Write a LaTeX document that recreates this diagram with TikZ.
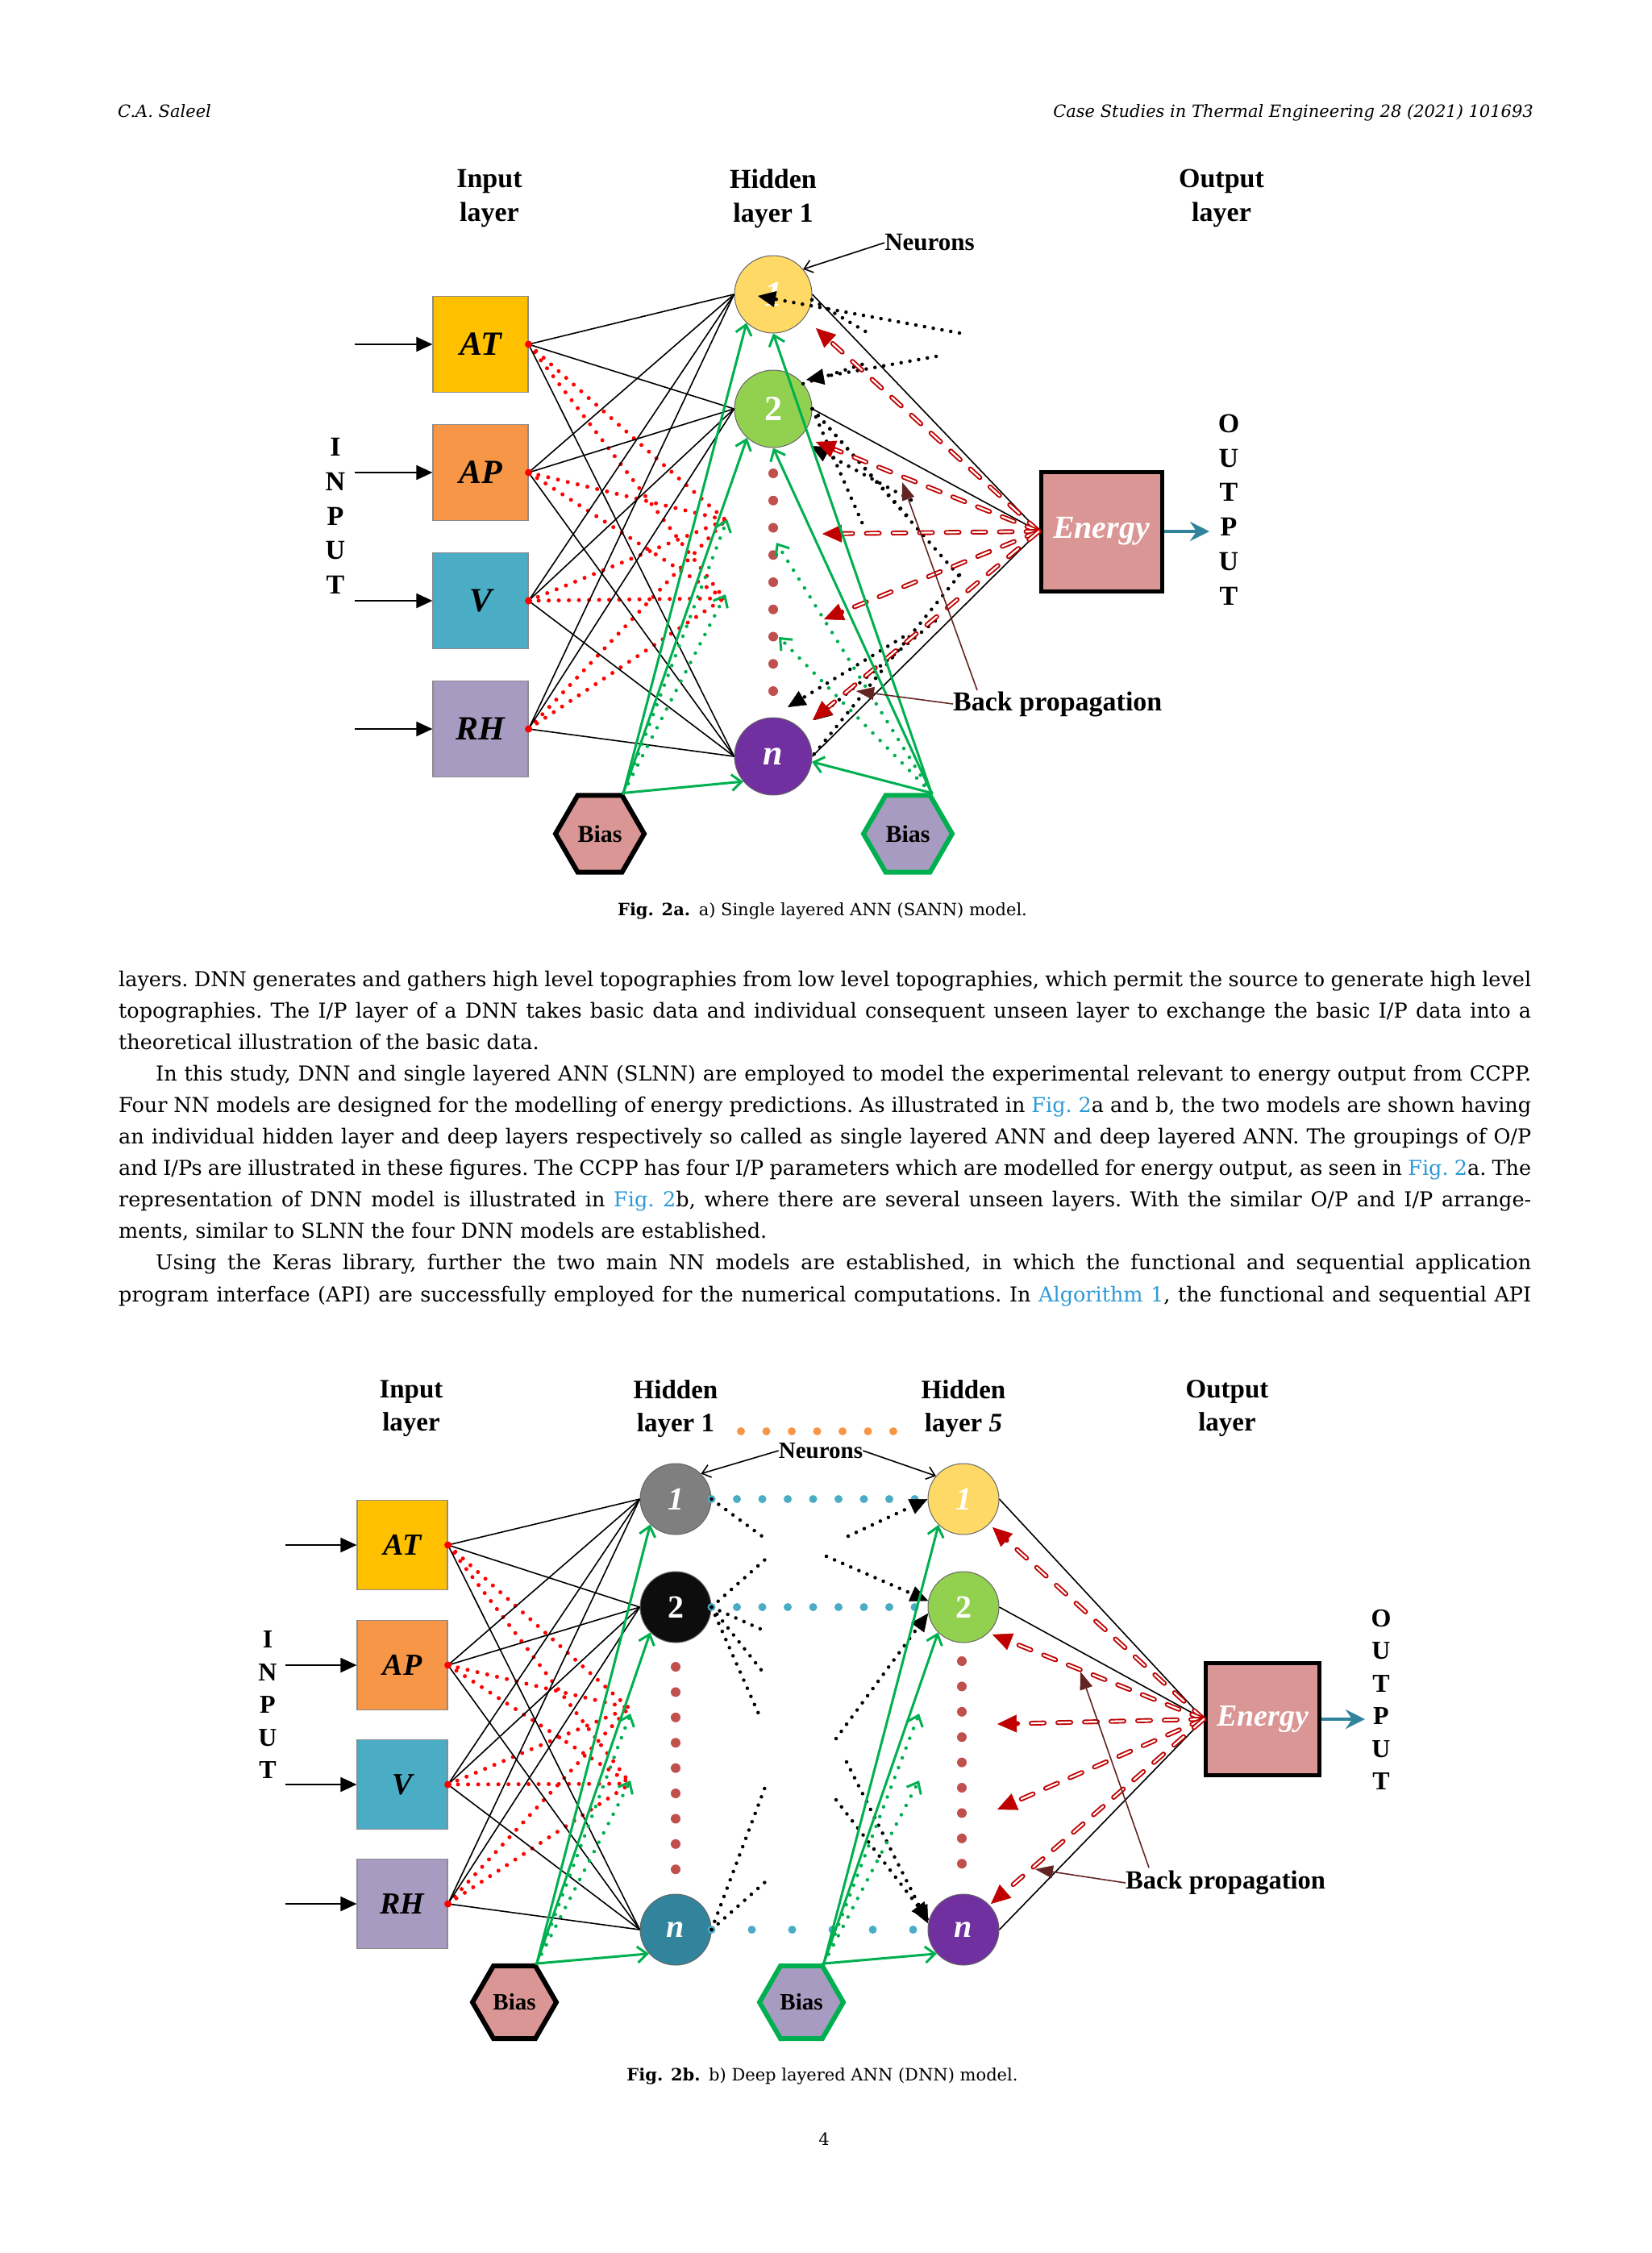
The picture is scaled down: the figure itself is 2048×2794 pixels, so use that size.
\documentclass[tikz,border=0pt]{standalone}
\usepackage{fontspec}
\setmainfont{DejaVu Serif}
\newfontfamily\tnr{Liberation Serif}
\usetikzlibrary{arrows.meta,shapes.geometric}
\definecolor{cAT}{HTML}{FFC000}
\definecolor{cAP}{HTML}{F79646}
\definecolor{cV}{HTML}{4BACC6}
\definecolor{cRH}{HTML}{A89BC1}
\definecolor{cEn}{HTML}{D99694}
\definecolor{cGreen}{HTML}{00B050}
\definecolor{cRed}{HTML}{C00000}
\definecolor{cRedDot}{HTML}{FF0000}
\definecolor{cBrown}{HTML}{C0504D}
\definecolor{cTeal}{HTML}{31849B}
\definecolor{cYel}{HTML}{FFD966}
\definecolor{cGrn}{HTML}{92D050}
\definecolor{cPur}{HTML}{7030A0}
\definecolor{cGray}{HTML}{7F7F7F}
\definecolor{cBlk}{HTML}{0D0D0D}
\definecolor{cBP}{HTML}{632523}
\definecolor{cLink}{HTML}{2E9AD6}
\definecolor{cOrange}{HTML}{F79646}
\definecolor{cBlue}{HTML}{4BACC6}
\newcommand{\lk}[1]{\textcolor{cLink}{#1}}
\newcommand{\bodyf}{\fontsize{25.5}{39}\selectfont\frenchspacing}
\begin{document}
\begin{tikzpicture}[x=1pt,y=-1pt,
  txt/.style={inner sep=0pt},
  bt/.style={anchor=base west, inner sep=0pt, font=\bodyf},
  title/.style={align=center, inner sep=0pt, font=\tnr\bfseries\fontsize{34}{42}\selectfont},
  titleb/.style={align=center, inner sep=0pt, font=\tnr\bfseries\fontsize{33}{41}\selectfont},
  vtxt/.style={align=center, inner sep=0pt, font=\tnr\bfseries\fontsize{34}{42.7}\selectfont},
  vtxtb/.style={align=center, inner sep=0pt, font=\tnr\bfseries\fontsize{32}{40.5}\selectfont},
  lbl/.style={inner sep=0pt, font=\tnr\bfseries\fontsize{31}{31}\selectfont},
  lblb/.style={inner sep=0pt, font=\tnr\bfseries\fontsize{29}{29}\selectfont},
  inbox/.style={rectangle, draw=black!45, line width=1.2pt, minimum width=118pt, minimum height=119pt, inner sep=0pt, font=\tnr\bfseries\itshape\fontsize{42}{42}\selectfont},
  inboxb/.style={rectangle, draw=black!45, line width=1.2pt, minimum width=112pt, minimum height=111pt, inner sep=0pt, font=\tnr\bfseries\itshape\fontsize{38}{38}\selectfont},
  neuron/.style={circle, draw=black!60, line width=1pt, minimum size=96pt, inner sep=0pt, text=white, font=\tnr\bfseries\fontsize{44}{44}\selectfont},
  neuronb/.style={circle, draw=black!60, line width=1pt, minimum size=88pt, inner sep=0pt, text=white, font=\tnr\bfseries\fontsize{40}{40}\selectfont},
  energy/.style={rectangle, draw=black, line width=5pt, fill=cEn, text=white, inner sep=0pt, font=\tnr\bfseries\itshape\fontsize{40}{40}\selectfont},
  hexa/.style={regular polygon, regular polygon sides=6, minimum size=110pt, inner sep=0pt, line width=6pt, font=\tnr\bfseries\fontsize{30}{30}\selectfont},
  hexab/.style={regular polygon, regular polygon sides=6, minimum size=104pt, inner sep=0pt, line width=6pt, font=\tnr\bfseries\fontsize{29}{29}\selectfont},
  inarr/.style={line width=2pt, -{Triangle[length=20pt,width=18pt]}},
  inln/.style={line width=1.6pt, black},
  reddot/.style={draw=cRedDot, line width=5pt, dash pattern=on 0pt off 12.5pt, line cap=round},
  blkdot/.style={draw=black, line width=4.5pt, dash pattern=on 0pt off 11pt, line cap=round},
  blkdotarr/.style={blkdot, -{Triangle[length=22pt,width=20pt,line width=0.5pt]}},
  grn/.style={draw=cGreen, line width=3pt, -{Straight Barb[length=12pt,width=20pt]}},
  grndot/.style={draw=cGreen, line width=4.5pt, dash pattern=on 0pt off 13pt, line cap=round, -{Straight Barb[length=12pt,width=20pt,line width=3pt]}},
  reddash/.style={draw=cRed, line width=6pt, line cap=round, dash pattern=on 16pt off 17pt, -{Triangle[length=24pt,width=22pt,line width=0.5pt]}, postaction={draw=white, line width=2.2pt, -, shorten >=26pt}},
  outarr/.style={draw=cTeal, line width=4pt, -{Stealth[length=24pt,width=24pt,inset=8pt]}},
  bparr/.style={draw=cBP, line width=1.6pt, -{Triangle[length=22pt,width=16pt,line width=0.5pt]}},
  thinarr/.style={line width=1.6pt, -{Straight Barb[length=10pt,width=16pt]}},
  browndots/.style={draw=cBrown, line width=12pt, line cap=round},
  bluedots/.style={draw=cBlue, line width=10pt, line cap=round},
  orangedots/.style={draw=cOrange, line width=10pt, line cap=round, dash pattern=on 0pt off 31.5pt}
]
\useasboundingbox (0,0) rectangle (2048,2794);
\fill[white] (0,0) rectangle (2048,2794);

% ---------------- header ----------------
\node[anchor=base west, txt, font=\fontsize{21}{21}\selectfont\itshape] (hdrL) at (146,146) {C.A. Saleel};
\node[anchor=base east, txt, font=\fontsize{21}{21}\selectfont\itshape] (hdrR) at (1902,146) {Case Studies in Thermal Engineering 28 (2021) 101693};

% ================= FIG 2a =================
\node[title] (tIn) at (607,246) {Input\\layer};
\node[title] (tHid) at (959,246) {Hidden\\layer 1};
\node[title] (tOut) at (1515,246) {Output\\layer};

\node[inbox, fill=cAT] (AT) at (596,427) {AT};
\node[inbox, fill=cAP] (AP) at (596,586) {AP};
\node[inbox, fill=cV] (V) at (596,745) {V};
\node[inbox, fill=cRH] (RH) at (596,904) {RH};

\coordinate (aAT) at (440,427);
\coordinate (aAP) at (440,586);
\coordinate (aV) at (440,745);
\coordinate (aRH) at (440,904);
\draw[inarr] (aAT) -- (AT.west);
\draw[inarr] (aAP) -- (AP.west);
\draw[inarr] (aV) -- (V.west);
\draw[inarr] (aRH) -- (RH.west);

\node[vtxt] (inpA) at (416,640) {I\\N\\P\\U\\T};

\node[neuron, fill=cYel] (N1) at (959,365) {\itshape 1};
\node[neuron, fill=cGrn] (N2) at (959,507) {2};
\node[neuron, fill=cPur] (Nn) at (959,938) {\itshape n};

\coordinate (bdA1) at (959,587);
\coordinate (bdA2) at (959,858);
\draw[browndots, dash pattern=on 0pt off 33.75pt] (bdA1) -- (bdA2);

\node[energy, minimum width=150pt, minimum height=148pt] (E1) at (1366,659) {Energy};
\coordinate (o1) at (1500,659);
\draw[outarr] (E1.east) -- (o1);
\node[vtxt] (outA) at (1524,632) {O\\U\\T\\P\\U\\T};

\node[hexa, fill=cEn, draw=black] (bL) at (744,1034) {Bias};
\node[hexa, fill=cRH, draw=cGreen] (bR) at (1126,1034) {Bias};

% red dotted input connections
\coordinate (rT1) at (900,645);
\coordinate (rT2) at (898,742);
\foreach \s in {AT,AP,V,RH}{
  \draw[reddot] (\s.east) -- (rT1);
  \draw[reddot] (\s.east) -- (rT2);
}
% black input connections
\foreach \s in {AT,AP,V,RH}{
  \foreach \t in {N1,N2,Nn}{\draw[inln] (\s.east) -- (\t.west);}
}
\foreach \s in {AT,AP,V,RH}{\fill[cRedDot] (\s.east) circle (4.5pt);}

% hidden -> output
\draw[inln] (N1.east) -- (E1.west);
\draw[inln] (N2.east) -- (E1.west);
\draw[inln] (Nn.east) -- (E1.west);

% black dotted
\coordinate (k1s) at (1190,413); \coordinate (k1e) at (940,367);
\coordinate (k2e) at (1075,412);
\coordinate (k3s) at (1161,442); \coordinate (k3e) at (1000,471);
\coordinate (k4e) at (1075,450);
\coordinate (k5e) at (1070,650);
\coordinate (k6e) at (1130,645);
\coordinate (k7e) at (1190,715);
\coordinate (k8s) at (1130,620); \coordinate (k8e) at (1006,553);
\coordinate (k9s) at (1120,790); \coordinate (k9e) at (977,877);
\coordinate (k10s) at (1160,770); \coordinate (k10e) at (1010,893);
\coordinate (k11s) at (1190,713);
\draw[blkdotarr] (k1s) -- (k1e);
\draw[blkdot] (N1.-8) -- (k2e);
\draw[blkdotarr] (k3s) -- (k3e);
\draw[blkdot] (N2.40) -- (k4e);
\draw[blkdot] (N2.east) -- (k5e);
\draw[blkdot] (N2.east) -- (k6e);
\draw[blkdot] (N2.east) -- (k7e);
\draw[blkdotarr] (k8s) -- (k8e);
\draw[blkdotarr] (k9s) -- (k9e);
\draw[blkdotarr] (k10s) -- (k10e);
\draw[blkdot] (k11s) -- (Nn.east);

% red dashed back propagation
\coordinate (rd1) at (1012,407);
\coordinate (rd2) at (1012,548);
\coordinate (rd3) at (1020,662);
\coordinate (rd4) at (1022,768);
\coordinate (rd5) at (1008,893);
\foreach \c in {rd1,rd2,rd3,rd4,rd5}{\draw[reddash] (E1.west) -- (\c);}

% green bias connections
\coordinate (gL1) at (902,644);
\coordinate (gL2) at (900,737);
\coordinate (gR1) at (963,673);
\coordinate (gR2) at (966,790);
\draw[grndot] (bL.60) -- (gL1);
\draw[grndot] (bL.60) -- (gL2);
\draw[grndot] (bR.60) -- (gR1);
\draw[grndot] (bR.60) -- (gR2);
\draw[grn] (bL.60) -- (N1.227);
\draw[grn] (bL.60) -- (N2.228);
\draw[grn] (bL.60) -- (Nn.220);
\draw[grn] (bR.60) -- (N1.270);
\draw[grn] (bR.60) -- (N2.270);
\draw[grn] (bR.60) -- (Nn.352);

% neurons label
\node[lbl] (nlA) at (1153,301) {Neurons};
\draw[thinarr] (nlA.west) -- (N1.40);

% back propagation label
\node[lbl, anchor=west, font=\tnr\bfseries\fontsize{34}{34}\selectfont] (BP1) at (1182,873) {Back propagation};
\coordinate (bp1a) at (1212,856); \coordinate (bp1t) at (1119,598);
\coordinate (bp2t) at (1062,857);
\draw[bparr] (bp1a) -- (bp1t);
\draw[bparr] (BP1.west) -- (bp2t);

\node[anchor=base, txt, font=\fontsize{21}{21}\selectfont] (capA) at (1020,1135) {\textbf{Fig. 2a.}\enspace a) Single layered ANN (SANN) model.};

% ---------------- body text ----------------
\node[bt] (p1) at (147,1223) {\makebox[1752pt][s]{layers. DNN generates and gathers high level topographies from low level topographies, which permit the source to generate high level}};
\node[bt] (p2) at (147,1262.1) {\makebox[1752pt][s]{topographies. The I/P layer of a DNN takes basic data and individual consequent unseen layer to exchange the basic I/P data into a}};
\node[bt] (p3) at (147,1301.2) {theoretical illustration of the basic data.};
\node[bt] (p4) at (193,1340.3) {\makebox[1706pt][s]{In this study, DNN and single layered ANN (SLNN) are employed to model the experimental relevant to energy output from CCPP.}};
\node[bt] (p5) at (147,1379.4) {\makebox[1752pt][s]{Four NN models are designed for the modelling of energy predictions. As illustrated in \lk{Fig. 2}a and b, the two models are shown having}};
\node[bt] (p6) at (147,1418.5) {\makebox[1752pt][s]{an individual hidden layer and deep layers respectively so called as single layered ANN and deep layered ANN. The groupings of O/P}};
\node[bt] (p7) at (147,1457.6) {\makebox[1752pt][s]{and I/Ps are illustrated in these figures. The CCPP has four I/P parameters which are modelled for energy output, as seen in \lk{Fig. 2}a. The}};
\node[bt] (p8) at (147,1496.7) {\makebox[1752pt][s]{representation of DNN model is illustrated in \lk{Fig. 2}b, where there are several unseen layers. With the similar O/P and I/P arrange-}};
\node[bt] (p9) at (147,1535.8) {ments, similar to SLNN the four DNN models are established.};
\node[bt] (p10) at (193,1574.9) {\makebox[1706pt][s]{Using the Keras library, further the two main NN models are established, in which the functional and sequential application}};
\node[bt] (p11) at (147,1614) {\makebox[1752pt][s]{program interface (API) are successfully employed for the numerical computations. In \lk{Algorithm 1}, the functional and sequential API}};

% ================= FIG 2b =================
\node[titleb] (tIn2) at (510,1747) {Input\\layer};
\node[titleb] (tH1) at (838,1747) {Hidden\\layer 1};
\node[titleb] (tH5) at (1195,1747) {Hidden\\layer \textit{5}};
\node[titleb] (tOut2) at (1522,1747) {Output\\layer};

\coordinate (or1) at (919,1775);
\coordinate (or2) at (1109,1775);
\draw[orangedots] (or1) -- (or2);

\node[inboxb, fill=cAT] (AT2) at (499,1916) {AT};
\node[inboxb, fill=cAP] (AP2) at (499,2065) {AP};
\node[inboxb, fill=cV] (V2) at (499,2213) {V};
\node[inboxb, fill=cRH] (RH2) at (499,2361) {RH};
\coordinate (bAT) at (354,1916);
\coordinate (bAP) at (354,2065);
\coordinate (bV) at (354,2213);
\coordinate (bRH) at (354,2361);
\draw[inarr] (bAT) -- (AT2.west);
\draw[inarr] (bAP) -- (AP2.west);
\draw[inarr] (bV) -- (V2.west);
\draw[inarr] (bRH) -- (RH2.west);
\node[vtxtb] (inpB) at (332,2114) {I\\N\\P\\U\\T};

\node[neuronb, fill=cGray] (A1) at (838,1859) {\itshape 1};
\node[neuronb, fill=cBlk] (A2) at (838,1993) {2};
\node[neuronb, fill=cTeal] (An) at (838,2393) {\itshape n};
\node[neuronb, fill=cYel] (B1) at (1195,1859) {\itshape 1};
\node[neuronb, fill=cGrn] (B2) at (1195,1993) {2};
\node[neuronb, fill=cPur] (Bn) at (1195,2393) {\itshape n};

\coordinate (bdB1) at (838,2067);
\coordinate (bdB2) at (838,2319);
\coordinate (bdC1) at (1193,2060);
\coordinate (bdC2) at (1193,2312);
\draw[browndots, dash pattern=on 0pt off 31.4pt] (bdB1) -- (bdB2);
\draw[browndots, dash pattern=on 0pt off 31.4pt] (bdC1) -- (bdC2);

\draw[bluedots, dash pattern=on 0pt off 31.5pt] (A1.east) -- (B1.west);
\draw[bluedots, dash pattern=on 0pt off 31.5pt] (A2.east) -- (B2.west);
\draw[bluedots, dash pattern=on 0pt off 50pt] (An.east) -- (Bn.west);

\node[energy, minimum width=141pt, minimum height=139pt, font=\tnr\bfseries\itshape\fontsize{38}{38}\selectfont] (E2) at (1566,2132) {Energy};
\coordinate (o2) at (1693,2132);
\draw[outarr] (E2.east) -- (o2);
\node[vtxtb] (outB) at (1713,2108) {O\\U\\T\\P\\U\\T};

\node[hexab, fill=cEn, draw=black] (bL2) at (638,2483) {Bias};
\node[hexab, fill=cRH, draw=cGreen] (bR2) at (994,2483) {Bias};

\coordinate (rU1) at (780,2118);
\coordinate (rU2) at (782,2212);
\foreach \s in {AT2,AP2,V2,RH2}{
  \draw[reddot] (\s.east) -- (rU1);
  \draw[reddot] (\s.east) -- (rU2);
}
\foreach \s in {AT2,AP2,V2,RH2}{
  \foreach \t in {A1,A2,An}{\draw[inln] (\s.east) -- (\t.west);}
}
\foreach \s in {AT2,AP2,V2,RH2}{\fill[cRedDot] (\s.east) circle (4.5pt);}

\draw[inln] (B1.east) -- (E2.west);
\draw[inln] (B2.east) -- (E2.west);
\draw[inln] (Bn.east) -- (E2.west);

% black dotted between layers
\coordinate (m1) at (945,1905);
\coordinate (m2) at (949,1934);
\coordinate (m3) at (943,2020);
\coordinate (m4) at (945,2072);
\coordinate (m5) at (943,2130);
\coordinate (m6) at (949,2216);
\coordinate (m7) at (949,2334);
\draw[blkdot] (A1.east) -- (m1);
\draw[blkdot] (A2.east) -- (m2);
\draw[blkdot] (A2.east) -- (m3);
\draw[blkdot] (A2.east) -- (m4);
\draw[blkdot] (A2.east) -- (m5);
\draw[blkdot] (An.east) -- (m6);
\draw[blkdot] (An.east) -- (m7);
\coordinate (q1) at (1052,1905);
\coordinate (q2) at (1025,1930);
\coordinate (q3) at (1037,2156);
\coordinate (q4) at (1050,2185);
\coordinate (q5) at (1037,2232);
\draw[blkdotarr] (q1) -- (B1.west);
\draw[blkdotarr] (q2) -- (B2.170);
\draw[blkdotarr] (q3) -- (B2.190);
\draw[blkdotarr] (q4) -- (Bn.170);
\draw[blkdotarr] (q5) -- (Bn.165);

% red dashed back propagation
\coordinate (re1) at (1231,1894);
\coordinate (re2) at (1231,2027);
\coordinate (re3) at (1237,2138);
\coordinate (re4) at (1237,2244);
\coordinate (re5) at (1229,2361);
\foreach \c in {re1,re2,re3,re4,re5}{\draw[reddash] (E2.west) -- (\c);}

% green bias connections
\coordinate (gU1) at (782,2125);
\coordinate (gU2) at (782,2208);
\coordinate (gV1) at (1140,2125);
\coordinate (gV2) at (1140,2208);
\draw[grndot] (bL2.60) -- (gU1);
\draw[grndot] (bL2.60) -- (gU2);
\draw[grndot] (bR2.60) -- (gV1);
\draw[grndot] (bR2.60) -- (gV2);
\draw[grn] (bL2.60) -- (A1.225);
\draw[grn] (bL2.60) -- (A2.225);
\draw[grn] (bL2.60) -- (An.222);
\draw[grn] (bR2.60) -- (B1.226);
\draw[grn] (bR2.60) -- (B2.225);
\draw[grn] (bR2.60) -- (Bn.222);

\node[lblb] (nlB) at (1018,1799) {Neurons};
\draw[thinarr] (nlB.west) -- (A1.45);
\draw[thinarr] (nlB.east) -- (B1.140);

\node[lbl, anchor=west, font=\tnr\bfseries\fontsize{32.5}{32.5}\selectfont] (BP2) at (1396,2335) {Back propagation};
\coordinate (bq1a) at (1425,2316); \coordinate (bq1t) at (1340,2073);
\coordinate (bq2t) at (1284,2318);
\draw[bparr] (bq1a) -- (bq1t);
\draw[bparr] (BP2.west) -- (bq2t);

\node[anchor=base, txt, font=\fontsize{21}{21}\selectfont] (capB) at (1020,2580) {\textbf{Fig. 2b.}\enspace b) Deep layered ANN (DNN) model.};
\node[anchor=base, txt, font=\fontsize{21}{21}\selectfont] (pnum) at (1022,2660) {4};
\end{tikzpicture}
\end{document}
